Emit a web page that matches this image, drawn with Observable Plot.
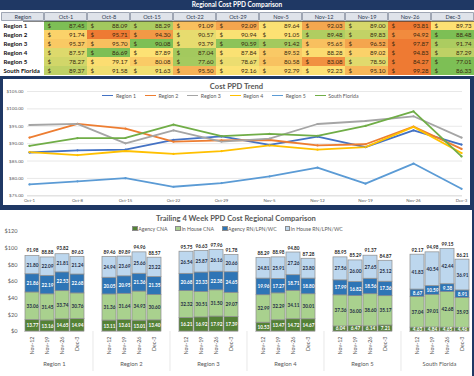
<!DOCTYPE html>
<html><head><meta charset="utf-8">
<script src="https://cdn.jsdelivr.net/npm/d3@7"></script>
<script src="https://cdn.jsdelivr.net/npm/@observablehq/plot@0.6"></script>
<style>
body{margin:0;width:474px;height:376px;overflow:hidden;background:#1f3864;font-family:Lato,"Open Sans",sans-serif;position:relative}
.abs{position:absolute}
#title{left:0;top:0;width:474px;height:10px;color:#fff;font-weight:bold;font-size:6.5px;text-align:center;line-height:9.5px}
#table{left:0;top:10px;width:474px;height:66px;background:#fff}
#line{left:3px;top:79px;width:467px;height:126px;background:#fff}
#bar{left:0;top:210px;width:472px;height:166px;background:#fff}
.ctitle{left:0;width:100%;text-align:center;font-weight:bold;font-size:7.6px;color:#595959}
.legend{left:0;width:100%;display:flex;justify-content:center;font-size:5.2px;color:#595959;align-items:center}
.legend span.item{display:flex;align-items:center;margin:0 4.5px}
.sw-line{display:inline-block;width:11px;height:1.6px;margin-right:2.5px}
.sw-sq{display:inline-block;width:3.5px;height:3.5px;margin-right:1.5px}
svg{display:block}
</style></head>
<body>
<div id="title" class="abs">Regional Cost PPD Comparison</div>
<div id="table" class="abs"></div>
<div id="line" class="abs">
  <div class="abs ctitle" style="top:2px">Cost PPD Trend</div>
  <div class="abs legend" id="lineLegend" style="top:13.5px;left:-6px"></div>
</div>
<div id="bar" class="abs">
  <div class="abs ctitle" style="top:2.5px">Trailing 4 Week PPD Cost Regional Comparison</div>
  <div class="abs legend" id="barLegend" style="top:15.5px;left:2px"></div>
</div>
<script>
// ---------- data ----------
const regions = ["Region 1","Region 2","Region 3","Region 4","Region 5","South Florida"];
const dates = ["Oct-1","Oct-8","Oct-15","Oct-22","Oct-29","Nov-5","Nov-12","Nov-19","Nov-26","Dec-3"];
const region1 = [87.45,88.09,88.29,91.09,92.09,89.64,92.03,89.00,93.81,89.73];
const region2 = [91.74,95.71,94.30,90.57,90.94,91.05,89.48,89.83,94.92,88.48];
const region3 = [95.37,95.70,90.08,93.79,90.59,91.42,95.65,96.52,97.87,91.74];
const region4 = [87.57,86.69,87.89,87.04,87.84,89.52,88.28,89.02,94.83,87.29];
const region5 = [78.27,79.17,80.08,77.60,78.67,80.58,83.08,78.50,84.27,77.01];
const southFlorida = [89.37,91.58,91.63,95.50,92.16,92.79,92.23,95.10,99.28,86.33];
const lineColors = ["#4472c4","#ed7d31","#a5a5a5","#ffc000","#5b9bd5","#70ad47"];
const yTicksLine = [75,80,85,90,95,100,105];

const weeks = ["Nov-12","Nov-19","Nov-26","Dec-3"];
const components = ["Agency CNA","In House CNA","Agency RN/LPN/WC","In House RN/LPN/WC"];
const compColors = ["#548235","#a9d18e","#2e75b6","#bdd7ee"];
const agencyCNA  = [13.77,13.16,14.65,14.94, 13.11,13.61,13.01,13.40, 16.21,16.92,17.92,17.39, 10.53,13.47,14.72,14.67, 6.04,6.47,6.14,7.21, 4.63,4.84,4.65,4.46];
const inHouseCNA = [33.06,31.45,33.74,30.76, 31.36,31.64,34.93,30.60, 32.32,30.51,31.50,29.07, 32.99,32.29,34.11,30.01, 37.36,36.00,38.60,35.17, 37.04,39.01,42.68,35.93];
const agencyRN   = [21.86,22.19,22.53,22.68, 20.05,20.95,21.36,21.35, 20.68,23.33,22.38,24.65, 19.96,17.27,18.71,18.80, 17.99,16.82,18.56,17.36, 8.67,10.59,9.38,8.91];
const inHouseRN  = [21.80,22.09,21.81,21.24, 24.94,23.69,25.66,23.22, 26.54,25.87,26.16,20.66, 24.81,25.91,27.26,23.80, 27.56,26.00,27.65,25.12, 41.83,40.54,42.44,36.91];
const totals     = [91.98,88.88,93.82,89.63, 89.46,89.89,94.96,88.57, 95.75,96.63,97.96,91.78, 88.29,88.98,94.80,87.28, 88.95,85.29,91.37,84.87, 92.17,94.98,99.15,86.21];
const yTicksBar = [0,20,40,60,80,100,120];

// ---------- tables built from arrays ----------
const series = [region1,region2,region3,region4,region5,southFlorida];
const lineRows = [];
regions.forEach((r,i)=>dates.forEach((d,j)=>lineRows.push({region:r,date:d,value:series[i][j]})));
// per-row 3-colour scale position (min / median / max)
const tableRows = [];
regions.forEach((r,i)=>{
  const v = series[i], mn = d3.min(v), mx = d3.max(v), md = d3.median(v);
  dates.forEach((d,j)=>{
    const x = v[j];
    const t = x <= md ? 0.5*(x-mn)/(md-mn) : 0.5+0.5*(x-md)/(mx-md);
    tableRows.push({region:r,date:d,value:x,t});
  });
});
const compArrays = [agencyCNA,inHouseCNA,agencyRN,inHouseRN];
const barRows = [], totalRows = [];
regions.forEach((r,i)=>weeks.forEach((w,j)=>{
  const k = i*4+j;
  components.forEach((c,m)=>barRows.push({region:r,week:w,component:c,value:compArrays[m][k]}));
  totalRows.push({region:r,week:w,total:totals[k]});
}));

// ---------- table ----------
const cols = ["Region", ...dates];
const tableY = ["hdr", ...regions];
const table = Plot.plot({
  width:474, height:66, marginTop:2, marginBottom:1, marginLeft:0, marginRight:0,
  x:{domain:cols, padding:0, axis:null},
  y:{domain:tableY, padding:0, axis:null},
  color:{type:"linear", domain:[0,0.5,1], range:["#7dbf55","#fde274","#ee7a33"]},
  style:{fontFamily:"Lato, 'Open Sans', sans-serif"},
  marks:[
    Plot.cell(cols, {x:d=>d, y:()=>"hdr", fill:"#dfe3ea", stroke:"#8a93a3", strokeWidth:0.8, inset:0.6}),
    Plot.text(cols, {x:d=>d, y:()=>"hdr", text:d=>d, fontSize:5.6, fill:"#2f3b52", fontWeight:d=>d==="Region"?"bold":"normal"}),
    Plot.cell(tableRows, {x:"date", y:"region", fill:"t"}),
    Plot.text(tableRows, {x:"date", y:"region", text:()=>"$", dx:-18.5, textAnchor:"start", fontSize:6.1, fill:"#3a2a10"}),
    Plot.text(tableRows, {x:"date", y:"region", text:d=>d.value.toFixed(2), dx:18.5, textAnchor:"end", fontSize:6.1, fill:"#3a2a10"}),
    Plot.text(regions, {x:()=>"Region", y:d=>d, text:d=>d, dx:-19.5, textAnchor:"start", fontSize:6.1, fontWeight:"bold", fill:"#111"}),
    Plot.ruleY(["Region 1"], {y:d=>d, dy:-4.5, x1:()=>"Oct-1", x2:()=>"Dec-3", stroke:"#333", strokeWidth:0.6, insetLeft:-21, insetRight:-21})
  ]
});
document.getElementById("table").append(table);

// ---------- line chart ----------
const line = Plot.plot({
  width:467, height:126, marginLeft:24, marginRight:8, marginTop:12, marginBottom:9.7,
  x:{type:"point", domain:dates, padding:0, label:null},
  y:{domain:[75,105], label:null},
  color:{domain:regions, range:lineColors},
  style:{fontFamily:"Lato, 'Open Sans', sans-serif", color:"#595959"},
  marks:[
    Plot.gridY(yTicksLine, {stroke:"#d9d9d9", strokeOpacity:1, strokeWidth:0.6}),
    Plot.axisY(yTicksLine, {tickFormat:d=>"$"+d.toFixed(2), tickSize:0, tickPadding:4, fontSize:4.6}),
    Plot.axisX({tickSize:0, tickPadding:3.5, fontSize:4.3}),
    Plot.ruleY([75], {stroke:"#d9d9d9", strokeWidth:0.8}),
    Plot.lineY(lineRows, {x:"date", y:"value", stroke:"region", strokeWidth:1.8}),
    Plot.dot(lineRows, {x:"date", y:"value", fill:"region", r:1.1})
  ]
});
document.getElementById("line").prepend(line);

const ll = document.getElementById("lineLegend");
regions.forEach((r,i)=>{
  const s = document.createElement("span"); s.className="item";
  s.innerHTML = `<i class="sw-line" style="background:${lineColors[i]}"></i>${r}`;
  ll.append(s);
});

// ---------- bar chart ----------
const labelFont = {fontSize:4.7, fontWeight:"bold"};
const bar = Plot.plot({
  width:472, height:166, marginLeft:22, marginRight:0.3, marginTop:21, marginBottom:45,
  fx:{domain:regions, paddingInner:0.216, paddingOuter:0, label:null},
  x:{domain:weeks, paddingInner:0.1, paddingOuter:0, label:null},
  y:{domain:[0,120], label:null},
  color:{domain:components, range:compColors},
  style:{fontFamily:"Lato, 'Open Sans', sans-serif", color:"#595959"},
  marks:[
    Plot.axisY(yTicksBar, {tickFormat:d=>"$"+d, tickSize:0, tickPadding:7, fontSize:5.6}),
    Plot.axisX({tickRotate:-90, tickSize:0, tickPadding:5, fontSize:5.4}),
    Plot.axisFx({anchor:"bottom", tickSize:0, tickPadding:30, fontSize:5.8}),
    Plot.ruleY([0], {stroke:"#d9d9d9"}),
    Plot.ruleX(regions.slice(0,-1).map(r=>({region:r})), {fx:"region", x:()=>"Dec-3", dx:15.5, y1:()=>0, y2:()=>-48, stroke:"#dedede", strokeWidth:0.7}),
    Plot.barY(barRows, Plot.stackY({fx:"region", x:"week", y:"value", fill:"component", order:components, stroke:"#8c8c8c", strokeWidth:0.7})),
    Plot.text(barRows, Plot.filter(d=>d.component==="Agency CNA"||d.component==="Agency RN/LPN/WC",
      Plot.stackY({fx:"region", x:"week", y:"value", z:"component", order:components, text:d=>d.value.toFixed(2), fill:"#ffffff", ...labelFont}))),
    Plot.text(barRows, Plot.filter(d=>d.component==="In House CNA"||d.component==="In House RN/LPN/WC",
      Plot.stackY({fx:"region", x:"week", y:"value", z:"component", order:components, text:d=>d.value.toFixed(2), fill:"#1f2d44", ...labelFont}))),
    Plot.text(totalRows, {fx:"region", x:"week", y:"total", text:d=>d.total.toFixed(2), dy:-4.5, fill:"#262626", ...labelFont})
  ]
});
document.getElementById("bar").prepend(bar);

const bl = document.getElementById("barLegend");
components.forEach((c,i)=>{
  const s = document.createElement("span"); s.className="item";
  s.innerHTML = `<i class="sw-sq" style="background:${compColors[i]};outline:0.4px solid #8c8c8c"></i>${c}`;
  bl.append(s);
});
</script>
</body></html>
